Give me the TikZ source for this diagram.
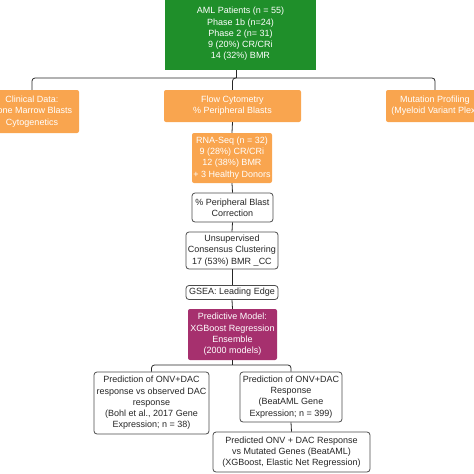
\documentclass[tikz,border=0pt]{standalone}
\usepackage{fontspec}
\setmainfont{Liberation Sans}
\usetikzlibrary{calc, positioning}

\definecolor{cohortgreen}{HTML}{1F8F2A}
\definecolor{assayorange}{HTML}{F9A54F}
\definecolor{modelmagenta}{HTML}{A6306E}

\tikzset{
  box/.style={rectangle, align=center, inner sep=1pt,
    font=\fontsize{9}{11.3}\selectfont},
  cohortbox/.style={box, fill=cohortgreen, text=white},
  assaybox/.style={box, fill=assayorange, text=white, rounded corners=2pt},
  modelbox/.style={box, fill=modelmagenta, text=white, rounded corners=2pt},
  stepbox/.style={box, draw=black!70, line width=0.8pt, fill=white,
    text=black!85, rounded corners=3pt},
  link/.style={draw=black!85, line width=0.8pt, rounded corners=3pt},
}

\begin{document}
\begin{tikzpicture}[x=1pt,y=-1pt]
\useasboundingbox (0,0) rectangle (474,474);

% cohort
\node[cohortbox, minimum width=151pt, minimum height=72pt] (aml) at (240.5,34)
  {AML Patients (n = 55)\\Phase 1b (n=24)\\Phase 2 (n= 31)\\9 (20\%) CR/CRi\\14 (32\%) BMR};

% assays
\node[assaybox, minimum width=94pt, minimum height=43pt] (clinical) at (32,111.5)
  {Clinical Data:\\Bone Marrow Blasts\\Cytogenetics};
\node[assaybox, minimum width=137pt, minimum height=32pt] (flow) at (232.5,106)
  {Flow Cytometry\\\% Peripheral Blasts};
\node[assaybox, minimum width=98pt, minimum height=32pt] (mutation) at (435,106)
  {Mutation Profiling\\(Myeloid Variant Plex)};

% rna-seq chain
\node[assaybox, minimum width=80pt, minimum height=50pt] (rnaseq) at (232,158)
  {RNA-Seq (n = 32)\\9 (28\%) CR/CRi\\12 (38\%) BMR\\+ 3 Healthy Donors};
\node[stepbox, minimum width=81pt, minimum height=29pt] (blast) at (232.5,207.5)
  {\% Peripheral Blast\\Correction};
\node[stepbox, minimum width=92pt, minimum height=37pt] (cluster) at (232,250.5)
  {Unsupervised\\Consensus Clustering\\17 (53\%) BMR \_CC};
\node[stepbox, minimum width=92pt, minimum height=14pt] (gsea) at (232,292.5)
  {GSEA: Leading Edge};
\node[modelbox, minimum width=89pt, minimum height=51pt] (model) at (232.5,334.5)
  {Predictive Model:\\XGBoost Regression\\Ensemble\\(2000 models)};

% predictions
\node[stepbox, minimum width=115pt, minimum height=62pt] (predobs) at (151.5,403)
  {Prediction of ONV+DAC\\response vs observed DAC\\response\\(Bohl et al., 2017 Gene\\Expression; n = 38)};
\node[stepbox, minimum width=102pt, minimum height=50pt] (predbeat) at (291,397)
  {Prediction of ONV+DAC\\Response\\(BeatAML Gene\\Expression; n = 399)};
\node[stepbox, minimum width=157pt, minimum height=40pt] (predmut) at (291.5,452)
  {Predicted ONV + DAC Response\\vs Mutated Genes (BeatAML)\\(XGBoost, Elastic Net Regression)};

% connectors
\coordinate (split) at (236,78);
\draw[link] (aml.south -| split) -- (split);
\draw[link] (split) -| (clinical.north);
\draw[link] (split) -| (mutation.north);
\draw[link] (split) -| (flow.north);
\draw[link] (flow.south) -- (rnaseq.north);
\draw[link] (rnaseq.south) -- (blast.north);
\draw[link] (blast.south) -- (cluster.north);
\draw[link] (cluster.south) -- (gsea.north);
\draw[link] (gsea.south) -- (model.north);
\coordinate (fork) at (232.5,365);
\draw[link] (model.south) -- (fork);
\draw[link] (fork) -| (predobs.north);
\draw[link] (fork) -| (predbeat.north);
\draw[link] (predbeat.south) -- (predmut.north);
\end{tikzpicture}
\end{document}
